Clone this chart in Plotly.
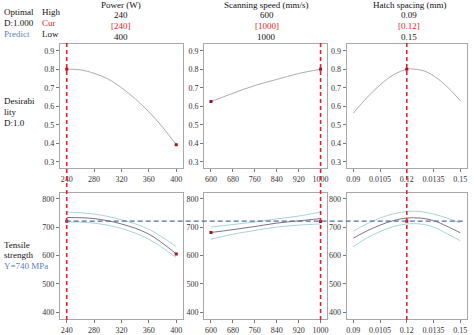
import plotly.graph_objects as go
from plotly.subplots import make_subplots

# ---------------- data ----------------
power_x = [240, 260, 280, 300, 320, 340, 360, 380, 400]
power_des = [0.80, 0.797, 0.778, 0.748, 0.700, 0.640, 0.570, 0.487, 0.392]
speed_x = [600, 680, 760, 840, 920, 1000]
speed_des = [0.625, 0.670, 0.712, 0.745, 0.777, 0.800]
hatch_x = [0.09, 0.0975, 0.105, 0.1125, 0.12, 0.1225, 0.13, 0.1375, 0.145, 0.15]
hatch_des = [0.563, 0.645, 0.715, 0.770, 0.800, 0.802, 0.790, 0.748, 0.683, 0.630]

power_tx = [240, 280, 320, 360, 400]
power_ts_mean = [734, 730, 711, 675, 605]
power_ts_up = [753, 746, 726, 692, 631]
power_ts_lo = [718, 714, 695, 657, 592]

speed_tx = [600, 680, 760, 840, 920, 1000]
speed_ts_mean = [681, 691, 702, 714, 722, 730]
speed_ts_up = [700, 709, 718, 729, 739, 753]
speed_ts_lo = [657, 675, 688, 700, 707, 711]

hatch_tx = [0.09, 0.0975, 0.105, 0.1125, 0.12, 0.1275, 0.135, 0.1425, 0.15]
hatch_ts_mean = [661, 686, 707, 723, 732, 732, 723, 703, 680]
hatch_ts_up = [686, 711, 732, 747, 755, 755, 746, 732, 715]
hatch_ts_lo = [631, 661, 684, 702, 711, 711, 700, 677, 652]

# marker points (end / current settings)
des_pts = [([240, 400], [0.80, 0.392]), ([600, 1000], [0.625, 0.80]), ([0.12], [0.80])]
ts_pts = [([240, 400], [721, 605]), ([600, 1000], [681, 720]), ([0.12], [721])]

current = [240, 1000, 0.12]
target_y = 721

factors = ["Power (W)", "Scanning speed (mm/s)", "Hatch spacing (mm)"]
highs = ["240", "600", "0.09"]
curs = ["[240]", "[1000]", "[0.12]"]
lows = ["400", "1000", "0.15"]

power_ticks = [240, 280, 320, 360, 400]
speed_ticks = [600, 680, 760, 840, 920, 1000]
hatch_ticks = [0.09, 0.105, 0.12, 0.135, 0.15]
hatch_ticktext = ["0.09", "0.0105", "0.12", "0.0135", "0.15"]
des_ticks = [0.3, 0.4, 0.5, 0.6, 0.7, 0.8, 0.9]
ts_ticks = [400, 500, 600, 700, 800]

# ---------------- figure ----------------
W, H = 474, 335
FONT = "Liberation Serif"
fig = make_subplots(rows=2, cols=3)

des_col = "#ababab"
mean_col = "#7d7180"
ci_col = "#a9d4d6"
dot_col = "#a3121c"

top = [(power_x, power_des), (speed_x, speed_des), (hatch_x, hatch_des)]
bot = [(power_tx, power_ts_mean, power_ts_up, power_ts_lo),
       (speed_tx, speed_ts_mean, speed_ts_up, speed_ts_lo),
       (hatch_tx, hatch_ts_mean, hatch_ts_up, hatch_ts_lo)]

for i in range(3):
    x, y = top[i]
    fig.add_trace(go.Scatter(x=x, y=y, mode="lines", line=dict(color=des_col, width=1, shape="spline"),
                             hoverinfo="skip"), row=1, col=i + 1)
    px, py = des_pts[i]
    fig.add_trace(go.Scatter(x=px, y=py, mode="markers", marker=dict(color=dot_col, size=3, symbol="square")),
                  row=1, col=i + 1)
    bx, bm, bu, bl = bot[i]
    for yy, c in ((bu, ci_col), (bl, ci_col), (bm, mean_col)):
        fig.add_trace(go.Scatter(x=bx, y=yy, mode="lines", line=dict(color=c, width=1, shape="spline"),
                                 hoverinfo="skip"), row=2, col=i + 1)
    px, py = ts_pts[i]
    fig.add_trace(go.Scatter(x=px, y=py, mode="markers", marker=dict(color=dot_col, size=3, symbol="square")),
                  row=2, col=i + 1)

def px2x(p):
    return p / W

def px2y(p):
    return 1 - p / H

xdom = [(60, 184), (205, 328), (348, 469)]
ydom_top = (44, 169)
ydom_bot = (194, 321)
xranges = [[229.8, 410.2], [575, 1022], [0.0862, 0.1538]]
xtickvals = [power_ticks, speed_ticks, hatch_ticks]
xticktext = [[str(v) for v in power_ticks], [str(v) for v in speed_ticks], hatch_ticktext]

axis_common = dict(showline=True, mirror=True, linecolor="#a8a8a8", linewidth=1,
                   ticks="outside", ticklen=3, tickcolor="#777", showgrid=False, zeroline=False,
                   tickfont=dict(size=8, family=FONT, color="#333"))

lay = {}
for i in range(3):
    for r in range(2):
        n = i + 1 + 3 * r
        xname = "xaxis" if n == 1 else f"xaxis{n}"
        yname = "yaxis" if n == 1 else f"yaxis{n}"
        lay[xname] = dict(axis_common, domain=[px2x(xdom[i][0]), px2x(xdom[i][1])],
                          range=xranges[i], tickvals=xtickvals[i], ticktext=xticktext[i])
        yd = ydom_top if r == 0 else ydom_bot
        ydict = dict(axis_common, domain=[px2y(yd[1]), px2y(yd[0])])
        if r == 0:
            ydict.update(range=[0.266, 0.938], tickvals=des_ticks,
                         ticktext=[f"{v:.1f}" for v in des_ticks])
        else:
            ydict.update(range=[375, 821], tickvals=ts_ticks)
        lay[yname] = ydict
fig.update_layout(**lay)

shapes = []
for i in range(3):
    shapes.append(dict(type="line", xref="x" if i == 0 else f"x{i+1}", yref="paper",
                       x0=current[i], x1=current[i], y0=px2y(322), y1=px2y(42),
                       line=dict(color="#e3202b", width=1.6, dash="4px,3px")))
shapes.append(dict(type="line", xref="paper", yref="y4", x0=px2x(66), x1=px2x(467),
                   y0=target_y, y1=target_y, line=dict(color="#4f6fa8", width=1.1, dash="5px,3px")))

ann = []
def txt(x, y, s, color="#111", size=9, xanchor="center"):
    ann.append(dict(x=px2x(x), y=px2y(y), xref="paper", yref="paper", text=s, showarrow=False,
                    xanchor=xanchor, yanchor="middle",
                    font=dict(family=FONT, size=size, color=color)))

centers = [122, 268, 411]
for i in range(3):
    txt(centers[i], 5, factors[i])
    txt(centers[i], 15, highs[i])
    txt(centers[i], 26, curs[i], color="#e3202b")
    txt(centers[i], 37, lows[i])

txt(2, 12, "Optimal", xanchor="left")
txt(2, 23, "D:1.000", xanchor="left")
txt(2, 34, "Predict", color="#5b80c0", xanchor="left")
txt(40, 12, "High", xanchor="left")
txt(40, 23, "Cur", color="#e3202b", xanchor="left")
txt(40, 34, "Low", xanchor="left")

txt(2, 102, "Desirabi", xanchor="left")
txt(2, 113, "lity", xanchor="left")
txt(2, 124, "D:1.0", xanchor="left")
txt(2, 246, "Tensile", xanchor="left")
txt(2, 257, "strength", xanchor="left")
txt(2, 268, "Y=740 MPa", color="#5b80c0", xanchor="left")

fig.update_layout(width=W, height=H, margin=dict(l=0, r=0, t=0, b=0),
                  paper_bgcolor="white", plot_bgcolor="white", showlegend=False,
                  shapes=shapes, annotations=ann)

fig.write_html("out.html")
